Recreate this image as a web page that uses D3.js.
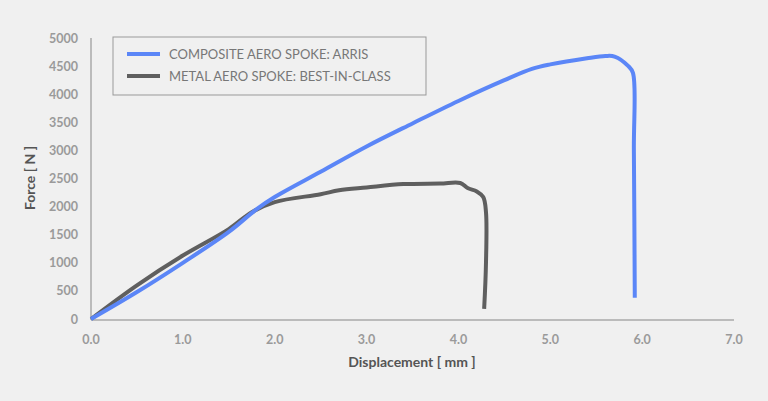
<!DOCTYPE html><html><head><script src="https://cdn.jsdelivr.net/npm/d3@7"></script>
<style>body{margin:0;background:#f0f0f0}svg{font-family:Lato,"Open Sans",sans-serif}</style></head><body>
<svg width="768" height="401"></svg>
<script>
const xTicks=[0,1,2,3,4,5,6,7];
const yTicks=[0,500,1000,1500,2000,2500,3000,3500,4000,4500,5000];
const seriesNames=["COMPOSITE AERO SPOKE: ARRIS","METAL AERO SPOKE: BEST-IN-CLASS"];
const composite=[[0,0],[0.5,480],[1.0,1000],[1.5,1550],[1.8,1950],[2.0,2170],[2.5,2620],[3.0,3070],[3.5,3480],[4.0,3880],[4.5,4250],[4.8,4450],[5.0,4530],[5.4,4640],[5.6,4680],[5.7,4670],[5.85,4500],[5.9,4380],[5.91,3000],[5.92,380]];
const metal=[[0,0],[0.5,600],[1.0,1130],[1.5,1600],[1.75,1900],[2.0,2080],[2.5,2220],[2.7,2290],[3.0,2340],[3.4,2400],[3.8,2410],[4.02,2420],[4.1,2330],[4.2,2270],[4.27,2170],[4.3,1900],[4.3,1000],[4.28,180]];
const colors=["#5b86f7","#5f5f5f"];
const svg=d3.select("svg");
const x=d3.scaleLinear().domain([0,7]).range([91,734]);
const y=d3.scaleLinear().domain([0,5000]).range([319,38]);
const tc="#9a9a9a";
svg.append("line").attr("x1",91).attr("x2",734).attr("y1",320).attr("y2",320).attr("stroke","#aaa").attr("stroke-width",1.5);
svg.append("line").attr("x1",91).attr("x2",91).attr("y1",38).attr("y2",320).attr("stroke","#aaa").attr("stroke-width",1.5);
svg.selectAll(".xt").data(xTicks).enter().append("text").attr("x",d=>x(d)).attr("y",344).attr("text-anchor","middle").attr("fill",tc).attr("font-size",12.5).attr("font-weight","bold").text(d=>d.toFixed(1));
svg.selectAll(".yt").data(yTicks).enter().append("text").attr("x",78).attr("y",d=>y(d)+4.5).attr("text-anchor","end").attr("fill",tc).attr("font-size",12.5).attr("font-weight","bold").text(d=>d);
const line=d3.line().x(d=>x(d[0])).y(d=>y(d[1])).curve(d3.curveMonotoneY);
const line2=d3.line().x(d=>x(d[0])).y(d=>y(d[1])).curve(d3.curveCatmullRom);
svg.append("path").attr("d",line2(metal)).attr("fill","none").attr("stroke",colors[1]).attr("stroke-width",4);
svg.append("path").attr("d",line2(composite)).attr("fill","none").attr("stroke",colors[0]).attr("stroke-width",4);
svg.append("text").attr("x",412).attr("y",367).attr("text-anchor","middle").attr("font-size",14).attr("font-weight","bold").attr("fill","#555").text("Displacement [ mm ]");
svg.append("text").attr("transform","translate(35,178) rotate(-90)").attr("text-anchor","middle").attr("font-size",14).attr("font-weight","bold").attr("fill","#555").text("Force [ N ]");
const lg=svg.append("g");
lg.append("rect").attr("x",113).attr("y",37).attr("width",313).attr("height",58).attr("fill","none").attr("stroke","#999");
seriesNames.forEach((n,i)=>{
 lg.append("line").attr("x1",127).attr("x2",160).attr("y1",54+i*22).attr("y2",54+i*22).attr("stroke",colors[i]).attr("stroke-width",4);
 lg.append("text").attr("x",169).attr("y",59+i*22).attr("font-size",13).attr("fill","#777").text(n);
});
</script></body></html>
